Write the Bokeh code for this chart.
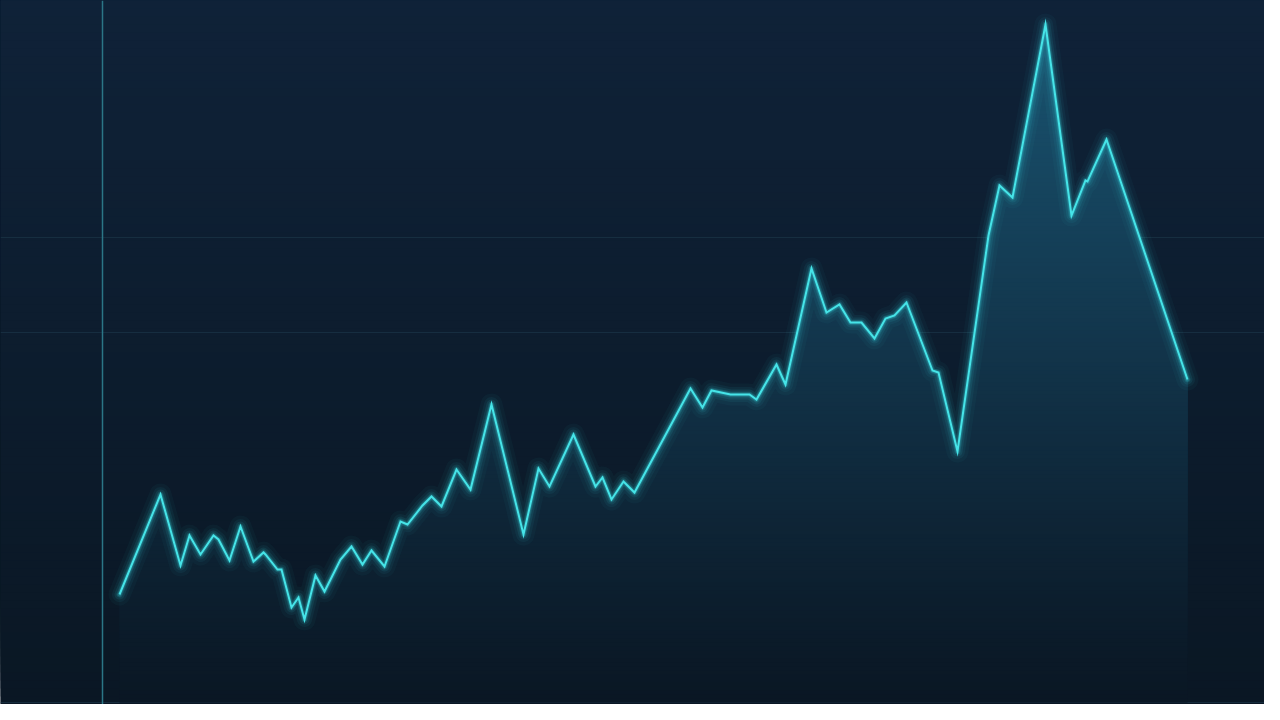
import numpy as np
from bokeh.plotting import figure
from bokeh.models import Range1d, Span, FixedTicker, BoxAnnotation
from bokeh.embed import file_html
from bokeh.resources import INLINE

# ---- data ----
t = [127, 168, 188, 197, 208, 221, 226, 237, 248, 261, 271, 273, 285, 289, 299, 306,
     312, 323, 332, 348, 359, 370, 379, 392, 408, 415, 430, 439, 449, 464, 478, 499,
     531, 546, 557, 581, 603, 610, 619, 631, 642, 698, 710, 719, 738, 757, 764, 784,
     793, 819, 834, 847, 858, 869, 882, 893, 902, 914, 940, 946, 965, 996, 1007, 1020,
     1053, 1079, 1093, 1095, 1114, 1195]
price = [118, 218, 147, 177, 158, 177, 173, 152, 186, 151, 160, 158, 143, 143, 105, 115,
         93, 137, 121, 153, 166, 148, 162, 146, 191, 188, 207, 216, 206, 243, 223, 308,
         178, 244, 226, 278, 226, 235, 213, 231, 220, 324, 305, 322, 318, 318, 313, 348,
         328, 444, 400, 408, 390, 390, 374, 394, 397, 410, 342, 340, 261, 477, 527, 515,
         688, 497, 532, 531, 573, 333]
grid_levels = [10, 380, 475]
axis_at = 110

x = np.array(t, dtype=float)
y = np.array(price, dtype=float)

Y0, Y1 = 8, 712
BG_BOTTOM = (10, 23, 36)
BG_TOP = (15, 34, 56)
FILL = (30, 108, 140)


def hexc(c):
    return "#%02x%02x%02x" % tuple(int(round(v)) for v in c)


def mix(a, b, f):
    return tuple(a[i] + (b[i] - a[i]) * f for i in range(3))


def bg_at(v):
    return mix(BG_BOTTOM, BG_TOP, (v - Y0) / (Y1 - Y0))


def part_above(xs, ys, level):
    """Polyline with the crossings of `level` added, so the area above it clips exactly."""
    ox, oy = [xs[0]], [ys[0]]
    for i in range(len(xs) - 1):
        a, b = ys[i] - level, ys[i + 1] - level
        if a * b < 0:
            xc = xs[i] + (xs[i + 1] - xs[i]) * a / (a - b)
            ox.append(xc)
            oy.append(level)
        ox.append(xs[i + 1])
        oy.append(ys[i + 1])
    ox, oy = np.array(ox), np.array(oy)
    return ox, np.maximum(oy, level)


p = figure(width=1264, height=704, output_backend="svg", toolbar_location=None,
           x_range=Range1d(Y0, 1272), y_range=Range1d(Y0, Y1),
           min_border=0, background_fill_color=hexc(BG_BOTTOM),
           border_fill_color=hexc(BG_BOTTOM), outline_line_color=None)
p.xaxis.visible = False
p.yaxis.visible = False
p.xgrid.visible = False
p.ygrid.ticker = FixedTicker(ticks=grid_levels)
p.ygrid.grid_line_color = "#1b3447"
p.ygrid.grid_line_alpha = 0.7
p.ygrid.grid_line_width = 1

# background vertical gradient (opaque stacked bands, lighter on top)
for L in np.arange(Y0, Y1, 8):
    p.add_layout(BoxAnnotation(bottom=float(L), top=Y1 + 2,
                               fill_color=hexc(bg_at(L + 4)), fill_alpha=1.0,
                               line_color=None, level="image"))

# area fill: vertical gradient, brighter higher up, fading out at the bottom
step = 4
for L in np.arange(10, 700, step):
    f = min(0.7, max(0.0, ((L + step / 2 - 10) / 690) ** 1.25 * 0.7))
    col = hexc(mix(bg_at(L + step / 2), FILL, f))
    xs, ys = part_above(x, y, L)
    p.varea(x=xs, y1=np.full_like(ys, L), y2=ys, fill_color=col, fill_alpha=1.0)

# left axis line
p.add_layout(Span(location=axis_at, dimension="height", line_color="#2b7686",
                  line_width=1.5))

# glowing line
for w, a in ((22, 0.035), (15, 0.055), (10, 0.09), (6, 0.14), (4, 0.22)):
    p.line(x, y, line_color="#38d9e6", line_width=w, line_alpha=a,
           line_join="round", line_cap="round")
p.line(x, y, line_color="#46e4e8", line_width=2, line_join="miter")

html = file_html(p, INLINE)
html = html.replace("<body>", '<body style="background:%s">' % hexc(BG_BOTTOM), 1)
open("out.html", "w").write(html)
